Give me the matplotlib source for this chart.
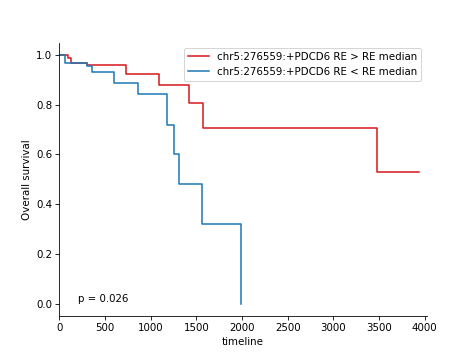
import matplotlib
matplotlib.use("Agg")
import matplotlib.pyplot as plt

# Kaplan-Meier step data (time, survival)
red_label = "chr5:276559:+PDCD6 RE > RE median"
red_t = [0, 100, 130, 307, 734, 1096, 1425, 1578, 3474, 3934]
red_s = [1.0, 0.988, 0.968, 0.958, 0.923, 0.879, 0.806, 0.705, 0.528, 0.528]

blue_label = "chr5:276559:+PDCD6 RE < RE median"
blue_t = [0, 66, 307, 360, 603, 866, 1183, 1260, 1315, 1567, 1984]
blue_s = [1.0, 0.968, 0.956, 0.931, 0.887, 0.843, 0.72, 0.60, 0.48, 0.32, 0.0]

p_text = "p = 0.026"
x_label = "timeline"
y_label = "Overall survival"

fig = plt.figure(figsize=(474/74, 355/74), dpi=74)
ax = fig.add_subplot(111)

ax.step(red_t, red_s, where="post", color="#d7191c", label=red_label, lw=1.5)
ax.step(blue_t, blue_s, where="post", color="#1f77b4", label=blue_label, lw=1.5)

ax.set_xlim(0, 4020)
ax.set_ylim(-0.05, 1.05)
ax.set_xticks([0, 500, 1000, 1500, 2000, 2500, 3000, 3500, 4000])
ax.set_yticks([0.0, 0.2, 0.4, 0.6, 0.8, 1.0])
ax.spines["top"].set_visible(False)
ax.spines["right"].set_visible(False)
ax.set_xlabel(x_label)
ax.set_ylabel(y_label)
ax.legend(loc="upper right")
ax.text(200, 0.0, p_text, va="bottom", ha="left")

fig.savefig("out.png", dpi=74)
